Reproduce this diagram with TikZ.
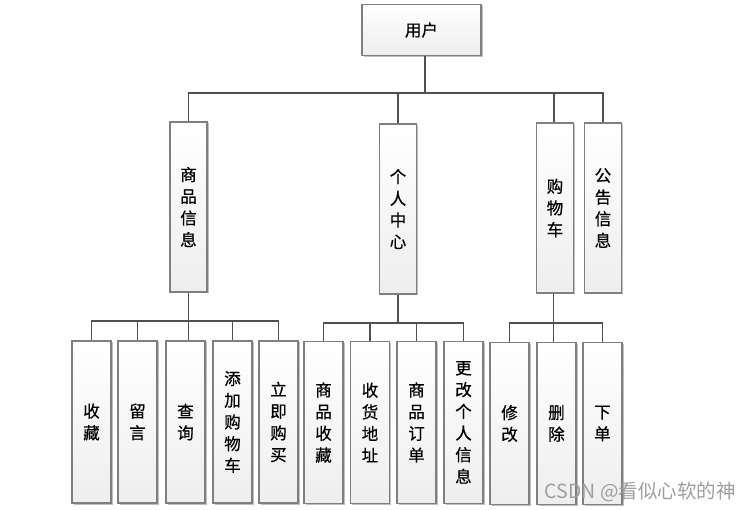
\documentclass[tikz,border=0pt]{standalone}
\usepackage{fontspec}
\setmainfont{Noto Sans CJK SC}
\newfontfamily\cjk[FakeBold=0.6]{Noto Sans CJK SC}
\newfontfamily\wmfont{Noto Sans CJK SC}
\usetikzlibrary{shadows}
\definecolor{boxline}{HTML}{7F7F7F}
\definecolor{conn}{HTML}{505050}
\definecolor{boxbot}{HTML}{EEEEEE}
\tikzset{
  box/.style={draw=boxline, line width=1.3pt, top color=white, bottom color=boxbot,
    inner sep=0pt, align=center, font=\cjk\fontsize{16.5}{21.7}\selectfont,
    drop shadow={shadow xshift=1.5pt, shadow yshift=-1.5pt, opacity=0.25, fill=black}},
  topbox/.style={box, minimum width=119pt, minimum height=51pt},
  midbox/.style={box, minimum width=37pt, minimum height=170pt},
  leafbox/.style={box, minimum width=39pt, minimum height=162pt},
  link/.style={draw=conn, line width=1.7pt},
}
\begin{document}
\begin{tikzpicture}[x=1pt,y=-1pt]
\useasboundingbox (0,0) rectangle (750,510);
% top
\node[topbox] (u) at (421.5,30) {用户};
% level 2
\node[midbox] (sp) at (188.5,207) {商\\品\\信\\息};
\node[midbox] (gr) at (398,209) {个\\人\\中\\心};
\node[midbox] (gw) at (555,208) {购\\物\\车};
\node[midbox] (gg) at (603,208) {公\\告\\信\\息};
% level 3 (商品信息)
\node[leafbox] (a1) at (91.5,422) {收\\藏};
\node[leafbox] (a2) at (137.5,422) {留\\言};
\node[leafbox] (a3) at (185.5,422) {查\\询};
\node[leafbox] (a4) at (232.5,422) {添\\加\\购\\物\\车};
\node[leafbox] (a5) at (278.5,422) {立\\即\\购\\买};
% level 3 (个人中心)
\node[leafbox] (b1) at (323.5,422.5) {商\\品\\收\\藏};
\node[leafbox] (b2) at (370,422.5) {收\\货\\地\\址};
\node[leafbox] (b3) at (416.5,422.5) {商\\品\\订\\单};
\node[leafbox] (b4) at (463.5,422.5) {更\\改\\个\\人\\信\\息};
% level 3 (购物车)
\node[leafbox] (c1) at (509.5,423.5) {修\\改};
\node[leafbox] (c2) at (556.5,423.5) {删\\除};
\node[leafbox] (c3) at (602.5,423.5) {下\\单};
% bus coordinates
\coordinate (bus0) at (0,93);
\coordinate (busa) at (0,321);
\coordinate (busb) at (0,323);
\coordinate (busc) at (0,323);
\coordinate (us) at ([xshift=3.5pt]u.south);
% connectors top
\draw[link] (us) -- (us |- bus0) -| (sp.north);
\draw[link] (us |- bus0) -| (gr.north);
\draw[link] (us |- bus0) -| ([xshift=-1pt]gw.north);
\draw[link] (us |- bus0) -| (gg.north);
% connectors 商品信息
\draw[link] (sp.south) -- (sp.south |- a3.north);
\draw[link] (sp.south |- busa) -| (a1.north);
\draw[link] (sp.south |- busa) -| (a2.north);
\draw[link] (sp.south |- busa) -| (a4.north);
\draw[link] (sp.south |- busa) -| (a5.north);
% connectors 个人中心
\draw[link] (gr.south) -- (gr.south |- busb);
\draw[link] (gr.south |- busb) -| (b1.north);
\draw[link] (gr.south |- busb) -| (b2.north);
\draw[link] (gr.south |- busb) -| (b3.north);
\draw[link] (gr.south |- busb) -| (b4.north);
% connectors 购物车
\coordinate (gws) at ([xshift=-1.5pt]gw.south);
\draw[link] (gws) -- (gws |- c2.north);
\draw[link] (gws |- busc) -| (c1.north);
\draw[link] (gws |- busc) -| (c3.north);
% watermark
\node[font=\wmfont\fontsize{19.5}{21}\selectfont, text=black!38, anchor=east, inner sep=0pt] (wm) at (736,492) {CSDN @看似心软的神};
\end{tikzpicture}
\end{document}
